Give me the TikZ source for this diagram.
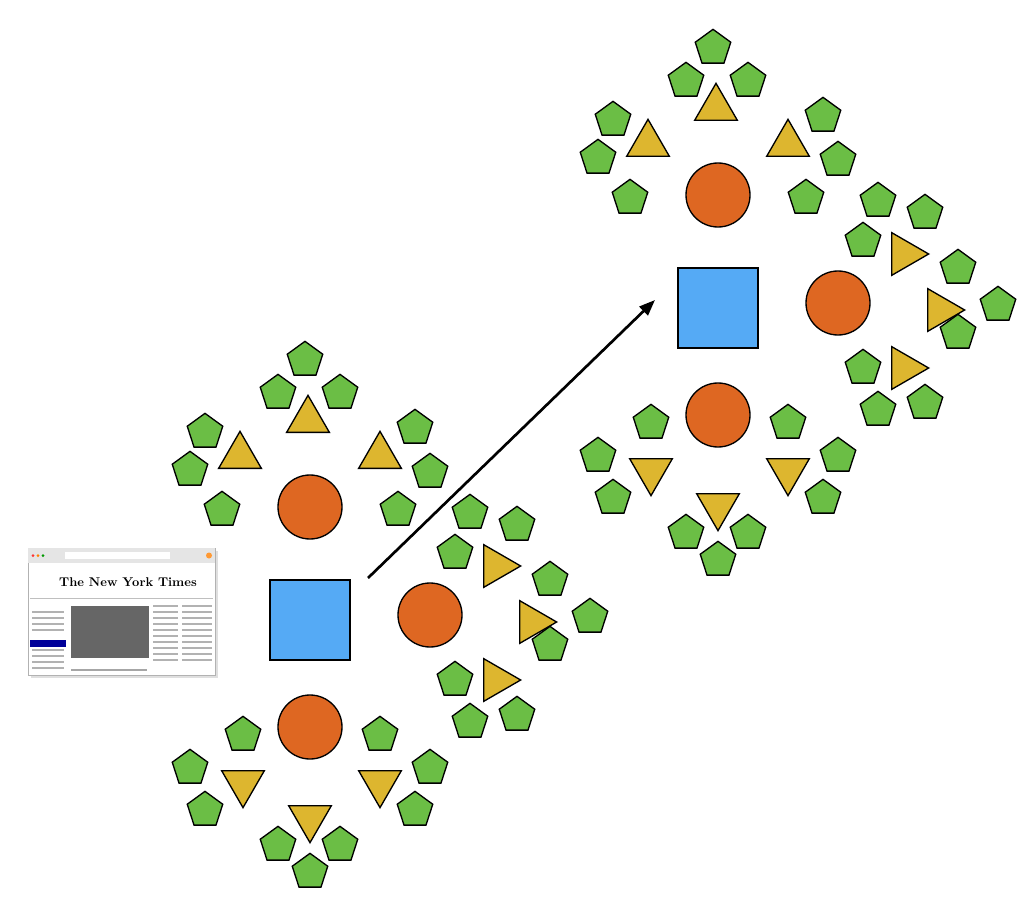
\documentclass[tikz,border=0pt]{standalone}
\usetikzlibrary{shapes.geometric,arrows.meta}
\definecolor{pgreen}{HTML}{6BBE45}
\definecolor{tyel}{HTML}{DDB62F}
\definecolor{corange}{HTML}{DE6722}
\definecolor{sblue}{HTML}{55AAF5}
\tikzset{
 pent/.style={regular polygon,regular polygon sides=5,minimum size=28pt,inner sep=0,fill=pgreen,draw=black,line width=1pt},
 tri/.style={regular polygon,regular polygon sides=3,minimum size=37pt,inner sep=0,fill=tyel,draw=black,line width=1pt},
 circ/.style={circle,minimum size=48pt,inner sep=0,fill=corange,draw=black,line width=1pt},
 sq/.style={rectangle,minimum size=60pt,inner sep=0,fill=sblue,draw=black,line width=1pt},
}
\newcommand{\mystructure}[3]{%
\begin{scope}[shift={(#2,#3)}]
 \node[sq] (#1sq) at (310,620) {};
 \node[circ] (#1ct) at (310,507) {};
 \node[circ] (#1cr) at (430,615) {};
 \node[circ] (#1cb) at (310,727) {};
 \node[tri] (#1t1) at (308,420) {};
 \node[tri] (#1t2) at (240,456) {};
 \node[tri] (#1t3) at (380,456) {};
 \foreach \i/\x/\y in {1/305/360,2/278/393,3/340/393,4/205/432,5/190/470,6/222/510,7/415/428,8/430/472,9/398/510}
   \node[pent] (#1pt\i) at (\x,\y) {};
 \node[tri,shape border rotate=180] (#1b1) at (310,818) {};
 \node[tri,shape border rotate=180] (#1b2) at (243,783) {};
 \node[tri,shape border rotate=180] (#1b3) at (380,783) {};
 \foreach \i/\x/\y in {1/310/872,2/278/845,3/340/845,4/190/768,5/205/810,6/243/735,7/380/735,8/430/768,9/415/810}
   \node[pent] (#1pb\i) at (\x,\y) {};
 \node[tri,shape border rotate=-90] (#1r1) at (496,566) {};
 \node[tri,shape border rotate=-90] (#1r2) at (532,622) {};
 \node[tri,shape border rotate=-90] (#1r3) at (496,680) {};
 \foreach \i/\x/\y in {1/470/513,2/517/525,3/455/553,4/550/580,5/590/617,6/550/645,7/455/680,8/470/722,9/517/715}
   \node[pent] (#1pr\i) at (\x,\y) {};
\end{scope}}
\begin{document}
\begin{tikzpicture}[x=0.75pt,y=-0.75pt]
\useasboundingbox (0,0) rectangle (1024,916);
\mystructure{a}{0}{0}
\mystructure{b}{408}{-312}
\fill[gray!25] (31,551) rectangle (218,678);
\node[rectangle,minimum width=140.25pt,minimum height=95.25pt,inner sep=0,fill=white,draw=gray!60] (shot) at (121.5,611.5) {};
\fill[gray!20] (28,548) rectangle (215,563);
\fill[red!80] (33,555.5) circle (1.5); \fill[orange] (38,555.5) circle (1.5); \fill[green!60!black] (43,555.5) circle (1.5);
\fill[white] (65,552) rectangle (170,559);
\fill[orange!80] (209,555.5) circle (3);
\node[font=\bfseries\fontsize{9.5}{9.5}\selectfont,inner sep=0] (nyt) at (128,582) {The New York Times};
\draw[gray!50,line width=0.3pt] (30,598) -- (213,598);
\fill[gray!80!black] (71,606) rectangle (149,658);
\fill[blue!60!black] (30,640) rectangle (66,647);
\foreach \y in {612,618,624,630,650,656,662,668} \draw[gray!60,line width=0.8pt] (32,\y) -- (64,\y);
\foreach \y in {606,612,618,624,630,636,642,648,654,660} \draw[gray!60,line width=0.8pt] (153,\y) -- (178,\y);
\foreach \y in {606,612,618,624,630,636,642,648,654,660} \draw[gray!60,line width=0.8pt] (182,\y) -- (212,\y);
\draw[gray!70,line width=1.2pt] (71,670) -- (147,670);
\coordinate (as) at (368,578);
\coordinate (ae) at (655,300);
\draw[-{Triangle[length=12pt,width=9pt]},line width=2pt] (as) -- (ae);
\end{tikzpicture}
\end{document}
